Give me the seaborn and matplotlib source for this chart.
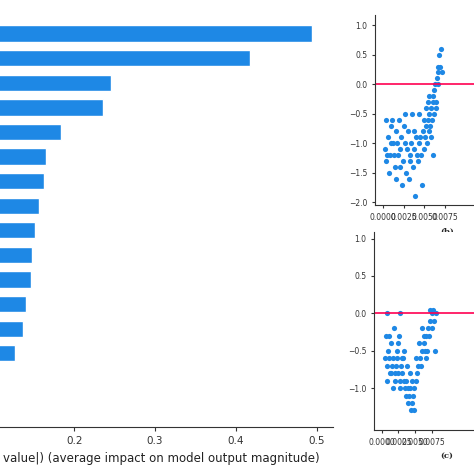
import matplotlib
matplotlib.use("Agg")
import matplotlib.pyplot as plt
import seaborn as sns
import pandas as pd

sns.set_style("white")
plt.rcParams['font.family'] = ['DejaVu Sans']

features = [f"f{i}" for i in range(14)]
importance = [0.494, 0.418, 0.246, 0.235, 0.183, 0.165, 0.163, 0.156, 0.151, 0.147, 0.146, 0.140, 0.137, 0.126]

b_x = [0.0002,0.0004,0.0006,0.0008,0.0010,0.0012,0.0014,0.0016,0.0018,0.0020,0.0022,0.0024,0.0026,0.0028,0.0030,0.0032,0.0034,0.0036,0.0038,0.0040,0.0042,0.0044,0.0046,0.0048,0.0050,
       0.0003,0.0007,0.0011,0.0015,0.0019,0.0023,0.0027,0.0031,0.0035,0.0039,0.0043,0.0047,0.0049,
       0.0005,0.0009,0.0013,0.0017,0.0021,0.0025,0.0029,0.0033,0.0037,0.0041,0.0045,
       0.0051,0.0052,0.0053,0.0054,0.0055,0.0056,0.0057,0.0058,0.0059,0.0060,0.0061,0.0062,0.0063,0.0064,0.0065,0.0066,0.0067,
       0.0052,0.0054,0.0056,0.0058,0.0060,0.0062,0.0064,0.0066,0.0068,0.0069,0.0070,0.0071]
b_y = [-1.1,-1.3,-0.9,-1.2,-0.7,-1.0,-1.4,-0.8,-1.2,-1.1,-0.9,-1.3,-1.0,-1.5,-0.8,-1.2,-1.0,-1.4,-1.1,-0.9,-1.3,-1.0,-1.2,-0.8,-1.1,
       -0.6,-1.5,-0.6,-1.6,-0.6,-1.7,-0.5,-1.6,-0.5,-1.9,-0.5,-1.7,-0.6,
       -1.2,-1.0,-1.2,-1.0,-1.4,-0.7,-1.1,-1.3,-0.8,-1.2,-0.9,
       -0.9,-0.7,-1.0,-0.6,-0.8,-0.5,-0.7,-0.4,-0.6,-0.3,-0.2,-0.1,0.0,-0.3,0.1,0.2,0.3,
       -0.4,-0.3,-0.2,-0.9,-1.2,-0.5,-0.4,0.0,0.5,0.3,0.6,0.2]

c_x = [0.0005,0.0007,0.0009,0.0011,0.0013,0.0015,0.0017,0.0019,0.0021,0.0023,0.0025,0.0027,0.0029,0.0031,0.0033,0.0035,0.0037,0.0039,0.0041,0.0043,0.0045,0.0047,0.0049,
       0.0006,0.0010,0.0014,0.0018,0.0022,0.0026,0.0030,0.0034,0.0038,0.0042,0.0046,0.0048,
       0.0008,0.0012,0.0016,0.0020,0.0024,0.0028,0.0032,0.0036,0.0040,0.0044,
       0.0051,0.0053,0.0055,0.0057,0.0059,0.0061,0.0063,0.0065,0.0067,0.0069,0.0071,0.0073,0.0075,0.0077,0.0079,0.0081,
       0.0052,0.0056,0.0060,0.0064,0.0068,0.0072,0.0076,0.0080,0.0008,0.0028,0.0066]
c_y = [-0.6,-0.7,-0.5,-0.6,-0.8,-0.7,-0.6,-0.8,-0.7,-0.6,-0.8,-0.9,-0.7,-0.8,-0.9,-1.0,-0.9,-1.0,-1.1,-1.0,-1.2,-1.1,-1.0,
       -0.3,-0.3,-0.4,-0.2,-0.5,-0.3,-0.6,-0.5,-0.7,-0.8,-0.9,-1.3,
       -0.9,-0.8,-1.0,-0.9,-0.4,-1.0,-0.6,-1.1,-1.2,-1.3,
       -0.9,-0.8,-0.7,-0.6,-0.7,-0.5,-0.4,-0.5,-0.3,-0.2,-0.3,-0.1,0.0,0.05,-0.1,0.0,
       -0.6,-0.4,-0.2,-0.3,-0.5,0.05,-0.2,-0.5,0.0,0.0,-0.6]

blue = "#1E88E5"
red = "#FF0051"

fig = plt.figure(figsize=(4.74, 4.74), dpi=100)

ax = fig.add_axes([-0.184, 0.099, 0.886, 0.869])
df = pd.DataFrame({"feature": features, "imp": importance})
sns.barplot(data=df, x="imp", y="feature", color=blue, saturation=1, width=0.66, ax=ax, orient="h")
ax.set_ylim(16, -0.75)
ax.set_xlim(0, 0.52)
ax.set_yticks([])
ax.set_ylabel("")
ax.set_xticks([0.2, 0.3, 0.4, 0.5])
ax.tick_params(axis="x", labelsize=7.5, colors="#333333", length=3, direction="out", bottom=True)
ax.set_xlabel("mean(|SHAP value|) (average impact on model output magnitude)", fontsize=8.5, color="#222222")
for s in ["top", "right", "left"]:
    ax.spines[s].set_visible(False)
ax.spines["bottom"].set_color("#333333")

def dep(axr, xs, ys, xlim, ylim, yticks, xticks, xlabels, lab):
    sns.scatterplot(x=xs, y=ys, color=blue, s=14, linewidth=0, ax=axr)
    axr.axhline(0, color=red, lw=1.2)
    axr.set_xlim(*xlim); axr.set_ylim(*ylim)
    axr.set_yticks(yticks)
    axr.set_yticklabels([f"{v:.1f}".replace("-", "\u2212") for v in yticks])
    axr.set_xticks(xticks); axr.set_xticklabels(xlabels)
    axr.tick_params(labelsize=5.5, colors="#333333", length=2, left=True, bottom=True)
    for s in ["top", "right"]:
        axr.spines[s].set_visible(False)
    axr.spines["left"].set_color("#333333"); axr.spines["bottom"].set_color("#333333")
    axr.set_xlabel(lab, fontsize=6, fontfamily="serif", fontweight="bold")

a2 = fig.add_axes([0.791, 0.567, 0.306, 0.401])
dep(a2, b_x, b_y, (-0.001, 0.0166), (-2.05, 1.17), [1.0, 0.5, 0.0, -0.5, -1.0, -1.5, -2.0],
    [0, 0.0025, 0.005, 0.0075], ["0.0000", "0.0025", "0.0050", "0.0075"], "(b)")

a3 = fig.add_axes([0.789, 0.093, 0.306, 0.418])
dep(a3, c_x, c_y, (-0.0012, 0.0207), (-1.56, 1.09), [1.0, 0.5, 0.0, -0.5, -1.0],
    [0, 0.0025, 0.005, 0.0075], ["0.0000", "0.0025", "0.0050", "0.0075"], "(c)")

fig.savefig("out.png", dpi=100)
